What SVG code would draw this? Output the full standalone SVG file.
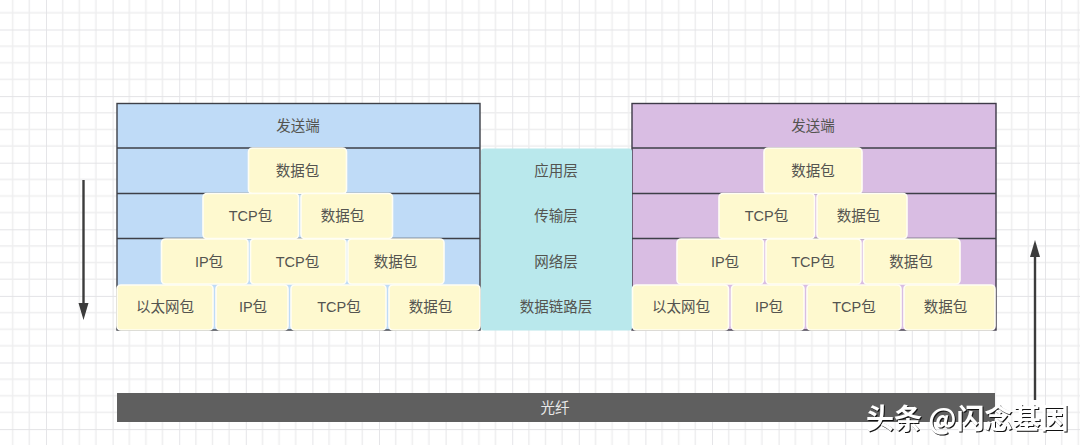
<svg xmlns="http://www.w3.org/2000/svg" width="1080" height="445" viewBox="0 0 1080 445">
<style>
text{font-family:"Liberation Sans","Noto Sans CJK SC",sans-serif;font-size:14.5px;fill:#545450;text-anchor:middle;dominant-baseline:central}
.c{fill:#fef9cf;stroke:#fffef4;stroke-width:1.6}
.l{stroke:#3e4048;stroke-width:1.6}
.a{stroke:#3c3c3c;stroke-width:2.4;fill:none}
.h{fill:#3c3c3c;stroke:none}
.wm{font-family:"Noto Sans CJK SC",sans-serif;font-size:28px;font-weight:700;fill:#fff;text-anchor:start;filter:drop-shadow(1px 1px 0 #111)}
</style>
<defs>
<pattern id="grid" x="46" y="29.5" width="66.6" height="66.6" patternUnits="userSpaceOnUse">
<path d="M16.65 0V66.6M33.3 0V66.6M49.95 0V66.6M0 16.65H66.6M0 33.3H66.6M0 49.95H66.6" stroke="#eeeeef" stroke-width="1.5" fill="none"/>
<path d="M0 0V66.6M0 0H66.6" stroke="#e3e3e6" stroke-width="1.8" fill="none"/>
</pattern>
</defs>
<rect id="background" width="1080" height="445" fill="#fff"/>
<rect id="grid-lines" width="1080" height="445" fill="url(#grid)"/>

<g id="sender">
<rect x="117" y="103.5" width="363" height="226.5" fill="#bfdbf7" stroke="#3e4048" stroke-width="1.4"/>
<path class="l" d="M117 148H480M117 193.5H480M117 238.5H480"/>
<text x="298" y="126">发送端</text>
</g>
<g id="receiver">
<rect x="632" y="103.5" width="364" height="226.5" fill="#d9bde3" stroke="#3e3a48" stroke-width="1.4"/>
<path class="l" d="M632 148H996M632 193.5H996M632 238.5H996"/>
<text x="813" y="126">发送端</text>
</g>
<g id="layers">
<rect x="481" y="148.5" width="151" height="182" rx="3" fill="#b9e8ec"/>
<text x="556" y="171">应用层</text>
<text x="556" y="216">传输层</text>
<text x="556" y="262">网络层</text>
<text x="556" y="307">数据链路层</text>
</g>

<g id="left-packets">
<rect class="c" x="248.5" y="148" width="98" height="45.5" rx="4"/><text x="297.500" y="171">数据包</text>
<rect class="c" x="203" y="193.500" width="95.500" height="45" rx="4"/><text x="250.500" y="216">TCP包</text>
<rect class="c" x="301" y="193.500" width="91.500" height="45" rx="4"/><text x="342.500" y="216">数据包</text>
<rect class="c" x="161.500" y="239" width="86.500" height="45" rx="4"/><text x="209" y="262">IP包</text>
<rect class="c" x="250.500" y="239" width="95.500" height="45" rx="4"/><text x="297.500" y="262">TCP包</text>
<rect class="c" x="348" y="239" width="96" height="45" rx="4"/><text x="395.500" y="262">数据包</text>
<rect class="c" x="117" y="285" width="96" height="45" rx="4"/><text x="165" y="307">以太网包</text>
<rect class="c" x="216" y="285" width="72" height="45" rx="4"/><text x="253" y="307">IP包</text>
<rect class="c" x="291" y="285" width="95" height="45" rx="4"/><text x="339" y="307">TCP包</text>
<rect class="c" x="389" y="285" width="91" height="45" rx="4"/><text x="430.500" y="307">数据包</text>
</g>
<g id="right-packets">
<rect class="c" x="764" y="148" width="98" height="45.5" rx="4"/><text x="813" y="171">数据包</text>
<rect class="c" x="719" y="193.500" width="95.500" height="45" rx="4"/><text x="766.500" y="216">TCP包</text>
<rect class="c" x="817" y="193.500" width="90" height="45" rx="4"/><text x="858.500" y="216">数据包</text>
<rect class="c" x="677" y="239" width="86.500" height="45" rx="4"/><text x="725" y="262">IP包</text>
<rect class="c" x="766" y="239" width="95" height="45" rx="4"/><text x="813" y="262">TCP包</text>
<rect class="c" x="863.500" y="239" width="96.500" height="45" rx="4"/><text x="911" y="262">数据包</text>
<rect class="c" x="632.500" y="285" width="96" height="45" rx="4"/><text x="681" y="307">以太网包</text>
<rect class="c" x="731.500" y="285" width="72.500" height="45" rx="4"/><text x="769" y="307">IP包</text>
<rect class="c" x="807" y="285" width="94" height="45" rx="4"/><text x="854" y="307">TCP包</text>
<rect class="c" x="904" y="285" width="91" height="45" rx="4"/><text x="945.500" y="307">数据包</text>
</g>
<g id="fiber">
<rect x="117" y="393" width="878" height="29" fill="#5f5f5f"/>
<text x="555" y="408" style="fill:#e8e8e8">光纤</text>
</g>
<g id="connectors">
<path class="a" d="M83.500 180V306"/>
<path class="h" d="M78.500 303H88.500L83.500 320Z"/>
<path class="a" d="M1035 400V254"/>
<path class="h" d="M1030 257H1040L1035 240Z"/>
</g>
<text class="wm" x="866" y="417">头条 @闪念基因</text>
</svg>
